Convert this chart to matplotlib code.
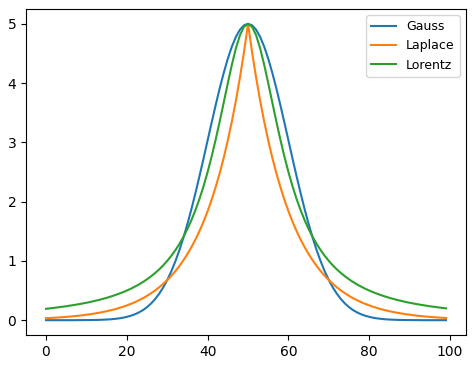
import numpy as np
import matplotlib
matplotlib.use("Agg")
import matplotlib.pyplot as plt

# x positions 0..99, peak at 50
x = np.arange(100)

# values, listed by distance from the peak (0..50)
gauss_half = [5.000, 4.975, 4.901, 4.780, 4.616, 4.412, 4.176, 3.914, 3.631, 3.335,
              3.033, 2.730, 2.434, 2.148, 1.876, 1.623, 1.390, 1.178, 0.990, 0.822,
              0.677, 0.551, 0.445, 0.355, 0.281, 0.220, 0.170, 0.131, 0.099, 0.075,
              0.056, 0.041, 0.030, 0.022, 0.015, 0.011, 0.008, 0.005, 0.004, 0.002,
              0.002, 0.001, 0.001, 0.000, 0.000, 0.000, 0.000, 0.000, 0.000, 0.000,
              0.000]
laplace_half = [5.000, 4.524, 4.094, 3.704, 3.352, 3.033, 2.744, 2.483, 2.247, 2.033,
                1.839, 1.664, 1.506, 1.363, 1.233, 1.116, 1.009, 0.913, 0.826, 0.748,
                0.677, 0.612, 0.554, 0.501, 0.454, 0.410, 0.371, 0.336, 0.304, 0.275,
                0.249, 0.225, 0.204, 0.184, 0.167, 0.151, 0.137, 0.124, 0.112, 0.101,
                0.092, 0.083, 0.075, 0.068, 0.061, 0.056, 0.050, 0.045, 0.041, 0.037,
                0.034]
lorentz_half = [5.000, 4.950, 4.808, 4.587, 4.310, 4.000, 3.676, 3.356, 3.049, 2.762,
                2.500, 2.262, 2.049, 1.859, 1.689, 1.538, 1.404, 1.285, 1.179, 1.085,
                1.000, 0.924, 0.856, 0.795, 0.740, 0.690, 0.644, 0.603, 0.566, 0.531,
                0.500, 0.471, 0.445, 0.421, 0.398, 0.377, 0.358, 0.340, 0.324, 0.308,
                0.294, 0.281, 0.268, 0.257, 0.246, 0.235, 0.226, 0.217, 0.208, 0.200,
                0.192]

labels = ["Gauss", "Laplace", "Lorentz"]


def full_curve(half):
    # left side x=0..49 is distance 50..1, right side x=50..99 is distance 0..49
    left = half[50:0:-1]
    right = half[0:50]
    return np.array(left + right)


fig = plt.figure(figsize=(4.74, 3.66), dpi=100)
ax = fig.add_axes([26 / 474, 1 - 335 / 366, 440 / 474, 326 / 366])

for half, lab in zip([gauss_half, laplace_half, lorentz_half], labels):
    ax.plot(x, full_curve(half), label=lab)

ax.legend(loc="upper right", fontsize=9)
fig.savefig("out.png", dpi=100)
